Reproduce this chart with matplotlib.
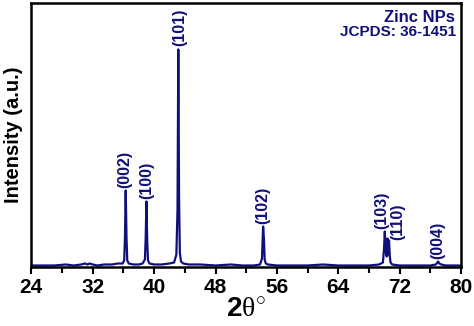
import matplotlib
matplotlib.use("Agg")
import matplotlib.pyplot as plt

plt.rcParams['font.family'] = ['Liberation Sans', 'DejaVu Sans']
plt.rcParams['mathtext.fontset'] = 'custom'
plt.rcParams['mathtext.rm'] = 'Liberation Serif'
plt.rcParams['mathtext.bf'] = 'Liberation Sans:bold'

# XRD pattern (2theta in degrees, intensity in a.u.)
two_theta = [24.0, 25.5, 27.0, 28.5, 29.5, 30.5, 31.0, 31.3, 31.6, 32.0, 32.6, 33.5, 34.5, 35.3,
             35.9, 36.1, 36.2, 36.3, 36.4, 36.5, 36.7,
             37.3, 38.0, 38.5, 38.8, 38.9, 39.0, 39.1, 39.2, 39.4,
             40.0, 41.0, 42.0, 42.6, 42.9, 43.05, 43.15, 43.25, 43.35, 43.5, 43.8,
             44.5, 46.0, 48.0, 50.0, 51.5, 53.0, 53.8, 54.05, 54.2, 54.3, 54.4, 54.55, 54.8,
             56.0, 58.0, 60.0, 62.0, 64.0, 66.0, 68.0, 69.3, 69.8, 69.95, 70.05, 70.15, 70.3,
             70.4, 70.5, 70.6, 70.7, 70.8, 71.0, 72.0, 74.0, 76.0, 76.7, 76.9, 77.0, 77.15,
             77.4, 78.0, 79.0, 80.0]
intensity = [3, 3, 3, 4, 3, 4, 5, 4, 5, 4, 3, 4, 4, 5,
             5, 8, 30, 78, 32, 8, 5,
             4, 4, 5, 9, 30, 67, 28, 8, 5,
             4, 4, 5, 6, 14, 60, 219, 70, 16, 7, 5,
             4, 4, 3, 4, 3, 3, 4, 10, 42, 30, 9, 5, 4,
             3, 3, 3, 4, 3, 3, 3, 4, 6, 20, 37, 18, 12,
             30, 14, 28, 12, 6, 4, 3, 3, 3, 4, 6, 7, 5,
             4, 3, 3, 3]

# peak labels: position of the label and the height it sits on
label_x = [36.15, 39.0, 43.3, 54.2, 69.6, 71.8, 76.9]
label_y = [79, 68, 221, 43, 38, 27, 8]
peak_hkl = ['(002)', '(100)', '(101)', '(102)', '(103)', '(110)', '(004)']

navy = '#10107a'

fig = plt.figure(figsize=(4.74, 3.26), dpi=100)
ax = fig.add_axes([0.066, 0.181, 0.907, 0.81])

ax.plot(two_theta, intensity, color=navy, lw=1.6)

for x, y, lab in zip(label_x, label_y, peak_hkl):
    ax.text(x, y + 1, lab, rotation=90, ha='center', va='bottom',
            color=navy, fontsize=11.5, fontweight='bold')

ax.text(0.985, 0.975, 'Zinc NPs', transform=ax.transAxes, ha='right', va='top',
        color=navy, fontsize=12, fontweight='bold')
ax.text(0.988, 0.915, 'JCPDS: 36-1451', transform=ax.transAxes, ha='right', va='top',
        color=navy, fontsize=11, fontweight='bold')

ax.set_xlim(24, 80)
ax.set_ylim(1.5, 265.5)
ax.set_xticks(range(24, 81, 8))
ax.set_xticks(range(28, 80, 8), minor=True)
ax.set_yticks([])
ax.tick_params(axis='x', which='major', direction='out', length=5, width=1.5,
               labelsize=15, pad=3)
ax.tick_params(axis='x', which='minor', direction='out', length=4, width=1.5)
for t in ax.get_xticklabels():
    t.set_fontweight('bold')
for s in ax.spines.values():
    s.set_linewidth(1.8)

ax.set_ylabel('Intensity (a.u.)', fontsize=14.5, fontweight='bold', labelpad=6)
ax.set_xlabel(r'$\mathbf{2}\mathrm{\theta}^{\circ}$', fontsize=20, labelpad=0)

fig.savefig('out.png', dpi=100)
